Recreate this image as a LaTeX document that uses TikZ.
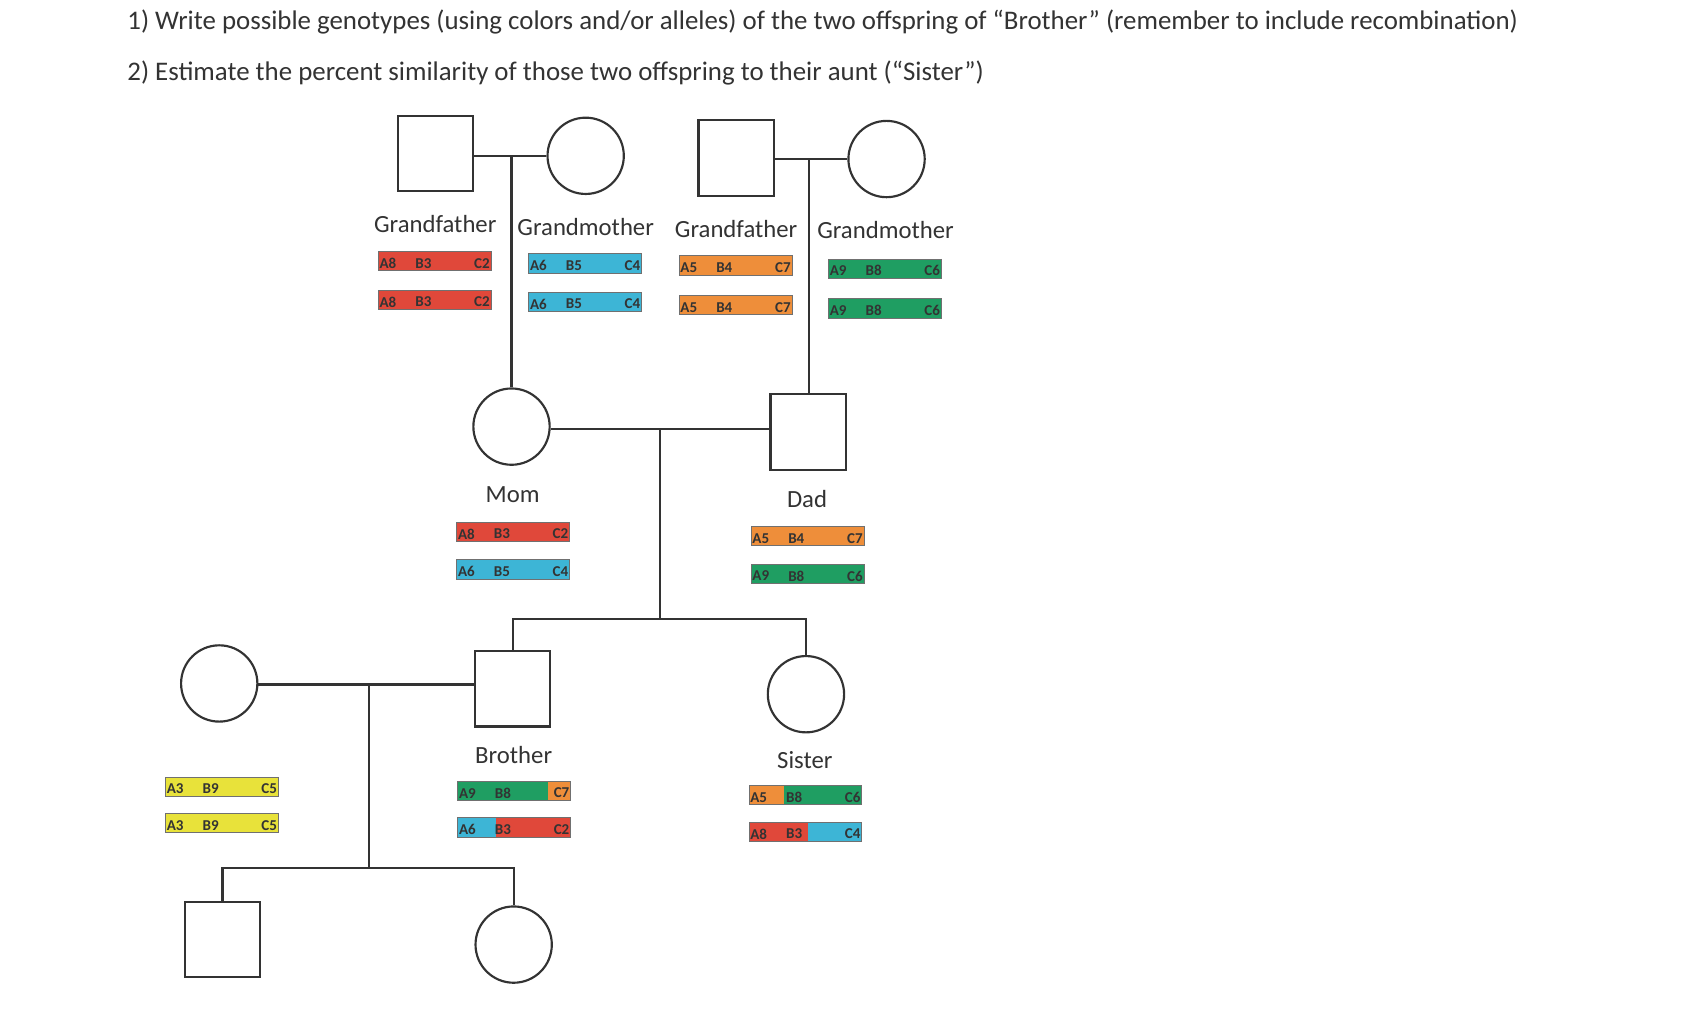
\documentclass[tikz,border=0pt]{standalone}
\usepackage{fontspec}
\setmainfont{Carlito}
\definecolor{cr}{HTML}{E0483A}
\definecolor{cb}{HTML}{3DB5D6}
\definecolor{co}{HTML}{EE8E3A}
\definecolor{cg}{HTML}{1F9E62}
\definecolor{cy}{HTML}{E8E23A}
\definecolor{ink}{HTML}{333333}
\newcommand\chr[8]{%
  \fill[#3] (#1,#2) rectangle (#1+#4,#2+18);
  \fill[#5] (#1+#4,#2) rectangle (#1+105,#2+18);
  \draw[ink!70,line width=0.8pt] (#1,#2) rectangle (#1+105,#2+18);
  \node[lab,anchor=west] at (#1,#2+11) {#6};
  \node[lab] at (#1+42,#2+11) {#7};
  \node[lab,anchor=east] at (#1+105,#2+11) {#8};}
\begin{document}
\begin{tikzpicture}[x=1pt,y=-1pt,
  lab/.style={font=\fontsize{14}{14}\selectfont\bfseries\rmfamily,text=ink,inner sep=1pt},
  male/.style={draw=ink,line width=2pt,minimum size=70pt,inner sep=0pt},
  fem/.style={circle,draw=ink,line width=2pt,minimum size=71pt,inner sep=0pt},
  pname/.style={font=\fontsize{23}{23}\selectfont,text=ink},
  ln/.style={draw=ink,line width=2pt}]
\fill[white] (0,0) rectangle (1568,952);
\node[anchor=west,font=\fontsize{25}{25}\selectfont,text=ink] (q1) at (115,20) {1) Write possible genotypes (using colors and/or alleles) of the two offspring of ``Brother'' (remember to include recombination)};
\node[anchor=west,font=\fontsize{25}{25}\selectfont,text=ink] (q2) at (115,68) {2) Estimate the percent similarity of those two offspring to their aunt (``Sister'')};
\node[male] (gf1) at (405,143) {};
\node[fem] (gm1) at (545,145) {};
\node[male] (gf2) at (685,147) {};
\node[fem] (gm2) at (825,148) {};
\node[fem] (mom) at (476,397) {};
\node[male] (dad) at (752,402) {};
\node[male] (bro) at (477,641) {};
\node[fem] (sis) at (750,646) {};
\node[fem] (wife) at (204,636) {};
\node[male] (son) at (207,874) {};
\node[fem] (dau) at (478,879) {};
\coordinate (j1) at (476,145);
\coordinate (j2) at (753,148);
\coordinate (j3) at (614,399);
\coordinate (j4) at (614,576);
\coordinate (j5) at (343,637);
\coordinate (j6) at (343,808);
\draw[ln] (gf1.east |- j1) -- (gm1.west);
\draw[ln] (j1) -- (mom.north);
\draw[ln] (gf2.east |- j2) -- (gm2.west);
\draw[ln] (j2) -- (dad.north -| j2);
\draw[ln] (mom.east |- j3) -- (dad.west |- j3);
\draw[ln] (j3) -- (j4);
\draw[ln] (bro.north) -- (bro.north |- j4) -- (sis.north |- j4) -- (sis.north);
\draw[ln] (wife.east |- j5) -- (bro.west |- j5);
\draw[ln] (j5) -- (j6);
\draw[ln] (son.north) -- (son.north |- j6) -- (dau.north |- j6) -- (dau.north);
\node[pname] at (405,208) {Grandfather};
\node[pname] at (545,211) {Grandmother};
\node[pname] at (685,213) {Grandfather};
\node[pname] at (824,214) {Grandmother};
\node[pname] at (477,460) {Mom};
\node[pname] at (751,464) {Dad};
\node[pname] at (478,703) {Brother};
\node[pname] at (749,707) {Sister};
\chr{352}{234}{cr}{105}{cr}{A8}{B3}{C2}
\chr{352}{270}{cr}{105}{cr}{A8}{B3}{C2}
\chr{492}{236}{cb}{105}{cb}{A6}{B5}{C4}
\chr{492}{272}{cb}{105}{cb}{A6}{B5}{C4}
\chr{632}{238}{co}{105}{co}{A5}{B4}{C7}
\chr{632}{275}{co}{105}{co}{A5}{B4}{C7}
\chr{771}{241}{cg}{105}{cg}{A9}{B8}{C6}
\chr{771}{278}{cg}{105}{cg}{A9}{B8}{C6}
\chr{425}{486}{cr}{105}{cr}{A8}{B3}{C2}
\chr{425}{521}{cb}{105}{cb}{A6}{B5}{C4}
\chr{699}{490}{co}{105}{co}{A5}{B4}{C7}
\chr{699}{525}{cg}{105}{cg}{A9}{B8}{C6}
\chr{154}{723}{cy}{105}{cy}{A3}{B9}{C5}
\chr{154}{757}{cy}{105}{cy}{A3}{B9}{C5}
\chr{426}{727}{cg}{84}{co}{A9}{B8}{C7}
\chr{426}{761}{cb}{36}{cr}{A6}{B3}{C2}
\chr{697}{731}{co}{33}{cg}{A5}{B8}{C6}
\chr{697}{765}{cr}{55}{cb}{A8}{B3}{C4}
\end{tikzpicture}
\end{document}
